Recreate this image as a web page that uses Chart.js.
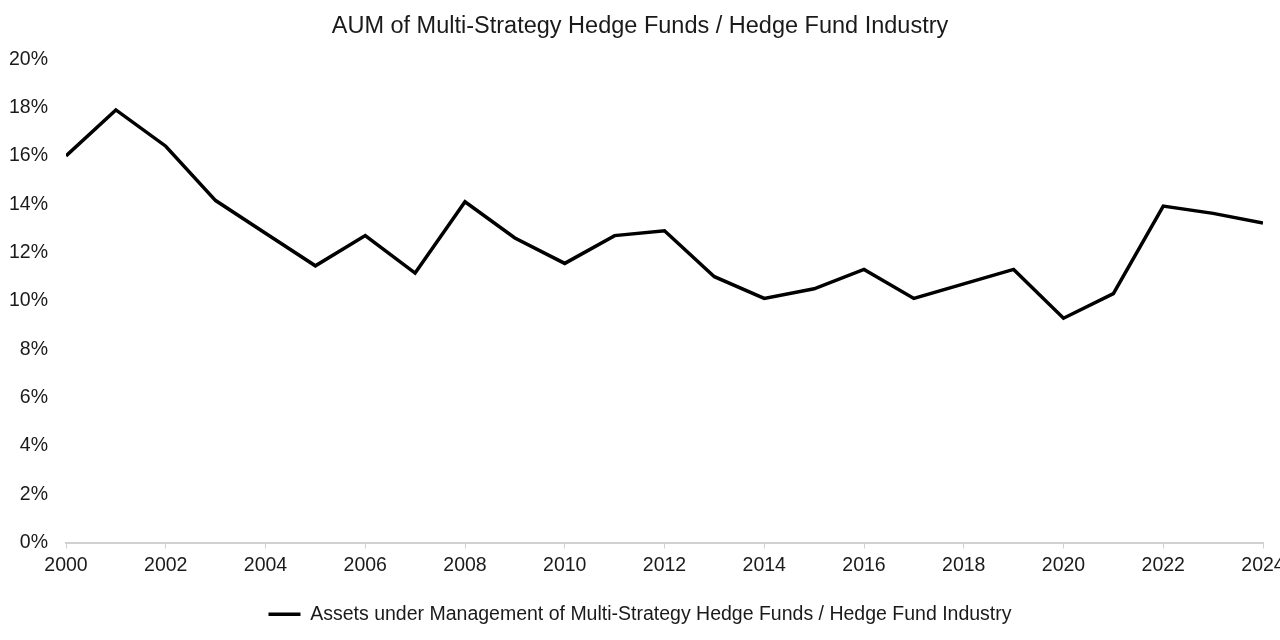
<!DOCTYPE html>
<html lang="en">
<head>
    <meta charset="UTF-8">
    <title>AUM of Multi-Strategy Hedge Funds</title>
    <script src="https://cdn.jsdelivr.net/npm/chart.js"></script>
    <style>
        html, body { margin: 0; padding: 0; background: #fff; }
        #wrap { width: 1280px; height: 640px; }
    </style>
</head>
<body>
    <div id="wrap"><canvas id="aumChart"></canvas></div>
    <script>
        const years = [2000, 2001, 2002, 2003, 2004, 2005, 2006, 2007, 2008, 2009, 2010, 2011, 2012,
                       2013, 2014, 2015, 2016, 2017, 2018, 2019, 2020, 2021, 2022, 2023, 2024];
        const shares = [16.0, 17.9, 16.4, 14.15, 12.8, 11.45, 12.7, 11.15, 14.1, 12.6, 11.55, 12.7, 12.9,
                        11.0, 10.1, 10.5, 11.3, 10.1, 10.7, 11.3, 9.28, 10.3, 13.92, 13.62, 13.22];
        const seriesLabel = 'Assets under Management of Multi-Strategy Hedge Funds / Hedge Fund Industry';
        const chartTitle = 'AUM of Multi-Strategy Hedge Funds / Hedge Fund Industry';

        const font = "'Liberation Sans', Arial, sans-serif";
        Chart.defaults.font.family = font;
        Chart.defaults.color = '#1a1a1a';

        new Chart(document.getElementById('aumChart'), {
            type: 'line',
            data: {
                datasets: [{
                    label: seriesLabel,
                    data: years.map((y, i) => ({ x: y, y: shares[i] })),
                    borderColor: '#000',
                    backgroundColor: '#000',
                    borderWidth: 3.5,
                    borderJoinStyle: 'miter',
                    pointRadius: 0,
                    pointStyle: 'line',
                    tension: 0
                }]
            },
            options: {
                responsive: true,
                maintainAspectRatio: false,
                animation: false,
                layout: { padding: { left: 0, right: 0, top: 0, bottom: 6 } },
                plugins: {
                    title: {
                        display: true,
                        text: chartTitle,
                        font: { size: 23.5, weight: 'normal' },
                        padding: { top: 12, bottom: 19 }
                    },
                    legend: {
                        position: 'bottom',
                        labels: {
                            usePointStyle: true,
                            pointStyleWidth: 32,
                            boxHeight: 3,
                            font: { size: 19.5 },
                            padding: 8
                        }
                    },
                    tooltip: { enabled: false }
                },
                scales: {
                    x: {
                        type: 'linear',
                        min: 2000,
                        max: 2024,
                        grid: {
                            drawOnChartArea: false,
                            drawTicks: true,
                            tickLength: 6,
                            color: '#d0d0d0'
                        },
                        border: { color: '#d0d0d0', width: 2 },
                        ticks: {
                            stepSize: 2,
                            font: { size: 19.5 },
                            padding: 5,
                            maxRotation: 0,
                            callback: v => String(v)
                        },
                        afterFit: s => { s.paddingLeft = 0; s.paddingRight = 17; s.height = 54; }
                    },
                    y: {
                        min: 0,
                        max: 20,
                        grid: { display: false },
                        border: { display: false },
                        ticks: {
                            stepSize: 2,
                            font: { size: 19.5 },
                            padding: 10,
                            callback: v => v + '%'
                        },
                        afterFit: s => { s.width = 66; }
                    }
                }
            }
        });
    </script>
</body>
</html>
